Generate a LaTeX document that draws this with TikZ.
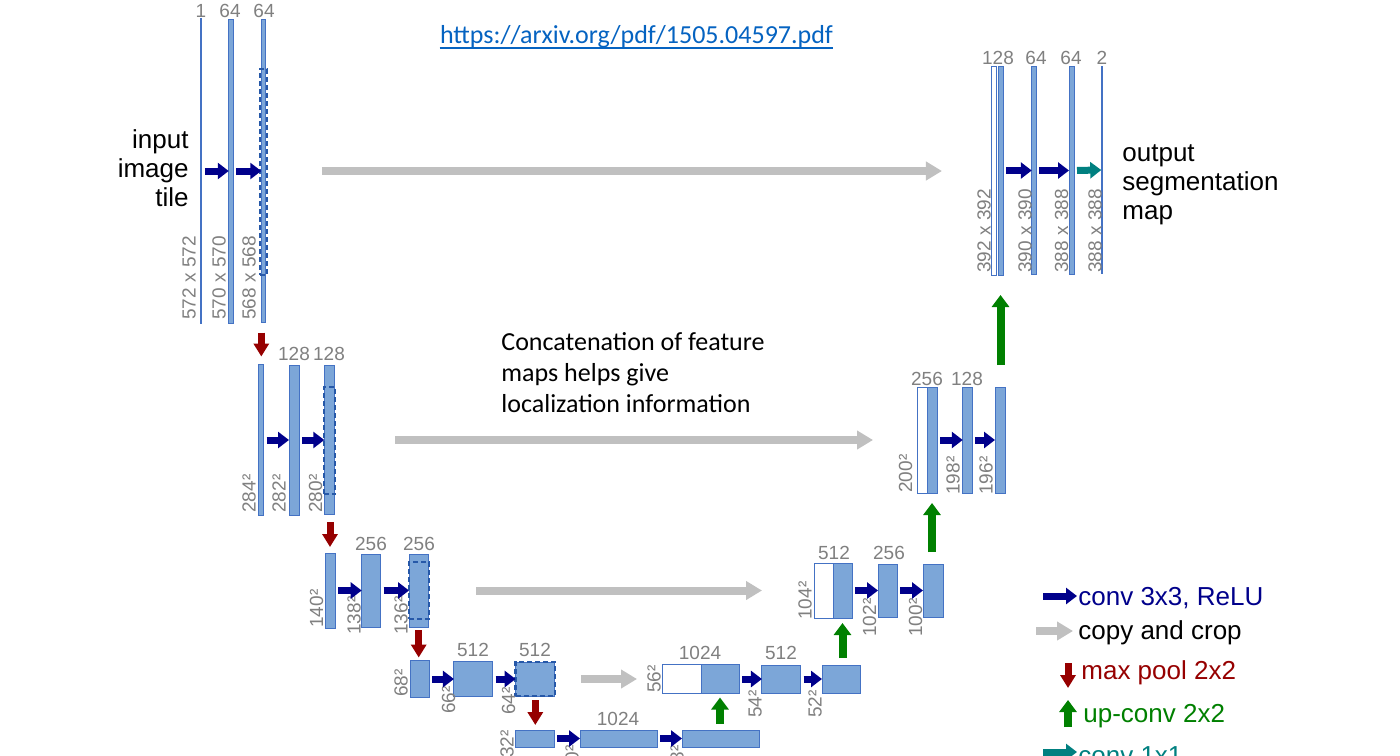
\documentclass[tikz,border=0pt]{standalone}
\usepackage{fontspec}
\setmainfont{Liberation Sans}
\newfontfamily\calib{Carlito}
\usetikzlibrary{arrows.meta}
\definecolor{barfill}{RGB}{124,166,216}
\definecolor{bardraw}{RGB}{68,114,196}
\definecolor{dashblue}{RGB}{38,88,168}
\definecolor{convcol}{RGB}{0,0,139}
\definecolor{poolcol}{RGB}{150,0,0}
\definecolor{upcol}{RGB}{0,128,0}
\definecolor{onecol}{RGB}{0,128,128}
\definecolor{copycol}{RGB}{192,192,192}
\definecolor{lblcol}{RGB}{128,128,128}
\definecolor{urlcol}{RGB}{5,99,193}
\begin{document}
\begin{tikzpicture}[x=0.5pt,y=-0.5pt,
 sz/.style 2 args={minimum width=#1*0.5pt,minimum height=#2*0.5pt},
 bar/.style={draw=bardraw,fill=barfill,line width=0.5pt,inner sep=0pt,outer sep=0pt},
 wbar/.style={draw=bardraw,fill=white,line width=0.5pt,inner sep=0pt,outer sep=0pt},
 dbox/.style={draw=dashblue,line width=1.2pt,dash pattern=on 2.5pt off 1.5pt,inner sep=0pt,outer sep=0pt},
 lbl/.style={text=lblcol,font=\fontsize{9.5}{10}\selectfont,inner sep=0pt},
 vlbl/.style={lbl,rotate=90,anchor=west},
 big/.style={font=\fontsize{13}{15}\selectfont,inner sep=0pt},
 cal/.style={font=\calib\fontsize{13}{15}\selectfont,inner sep=0pt,anchor=base west},
 conv/.style={draw=convcol,line width=3.5pt,shorten <=1.5pt,-{Triangle[length=5.5pt,width=8pt]}},
 one/.style={draw=onecol,line width=3.5pt,shorten <=1.5pt,-{Triangle[length=5.5pt,width=8pt]}},
 copyarr/.style={draw=copycol,line width=4pt,-{Triangle[length=8pt,width=9pt]}},
 pool/.style={draw=poolcol,line width=3.5pt,-{Triangle[length=6.5pt,width=7.5pt]}},
 upc/.style={draw=upcol,line width=4pt,-{Triangle[length=6pt,width=8.5pt]}}
]
\useasboundingbox (0,0) rectangle (1400,755);
\clip (0,0) rectangle (1400,755);
\fill[white] (0,0) rectangle (1400,755);

% ---------- URL ----------
\node[font=\calib\fontsize{13}{15}\selectfont,text=urlcol,inner sep=0pt,anchor=base] (url) at (636.5,43) {https://arxiv.org/pdf/1505.04597.pdf};
\draw[urlcol,line width=0.6pt] ([yshift=-2.5pt]url.base west) -- ([yshift=-2.5pt]url.base east);

% ---------- input text ----------
\node[big,anchor=base east] (in1) at (189,148) {input};
\node[big,anchor=base east] (in2) at (189,177) {image};
\node[big,anchor=base east] (in3) at (189,206) {tile};

% ---------- row 1 ----------
\node[bar,sz={1.5}{305}] (a1) at (201,171) {};
\node[bar,sz={4.5}{304}] (a2) at (231,171) {};
\node[bar,sz={4.5}{303}] (a3) at (263.5,171) {};
\node[dbox,sz={7}{206}] (a3d) at (263.5,172) {};
\node[lbl] (ta1) at (201,11) {1};
\node[lbl] (ta2) at (230,11) {64};
\node[lbl] (ta3) at (264,11) {64};
\node[vlbl] (va1) at (189,320) {572 x 572};
\node[vlbl] (va2) at (219,320) {570 x 570};
\node[vlbl] (va3) at (249,320) {568 x 568};

% ---------- row 2 ----------
\node[bar,sz={4.7}{151}] (b1) at (261.3,440) {};
\node[bar,sz={10}{150}] (b2) at (294,440) {};
\node[bar,sz={10}{149}] (b3) at (329.3,440) {};
\node[dbox,sz={11.5}{107}] (b3d) at (329.5,440.5) {};
\node[lbl] (tb2) at (294,354) {128};
\node[lbl] (tb3) at (329,354) {128};
\node[vlbl] (vb1) at (249,513) {284²};
\node[vlbl] (vb2) at (279,513) {282²};
\node[vlbl] (vb3) at (315.5,513) {280²};

% ---------- row 3 ----------
\node[bar,sz={10}{75}] (c1) at (330,590.5) {};
\node[bar,sz={19}{73}] (c2) at (371.2,590.5) {};
\node[bar,sz={19.3}{73}] (c3) at (418.7,590.5) {};
\node[dbox,sz={20}{57}] (c3d) at (419,590.5) {};
\node[lbl] (tc2) at (371,544) {256};
\node[lbl] (tc3) at (419,544) {256};
\node[vlbl] (vc1) at (316.5,628) {140²};
\node[vlbl] (vc2) at (354,635) {138²};
\node[vlbl] (vc3) at (401,635) {136²};

% ---------- row 4 ----------
\node[bar,sz={19}{37}] (d1) at (419.5,679) {};
\node[bar,sz={38.7}{35}] (d2) at (473.3,679) {};
\node[bar,sz={39.3}{34}] (d3) at (535.3,679) {};
\node[dbox,sz={39.3}{34}] (d3d) at (535.3,679) {};
\node[lbl] (td2) at (473,649.5) {512};
\node[lbl] (td3) at (535,649.5) {512};
\node[vlbl] (vd1) at (401,697) {68²};
\node[vlbl] (vd2) at (448.5,714) {66²};
\node[vlbl] (vd3) at (508.5,715) {64²};

% ---------- row 5 (bottom) ----------
\node[bar,sz={39}{17}] (e1) at (534.5,738.5) {};
\node[bar,sz={77}{17}] (e2) at (618.5,738.5) {};
\node[bar,sz={77}{17}] (e3) at (720.5,738.5) {};
\node[lbl] (te2) at (618,718.5) {1024};
\node[vlbl] (ve1) at (507,758) {32²};
\node[vlbl] (ve2) at (572,773) {30²};
\node[vlbl] (ve3) at (677,773) {28²};

% ---------- up row 4 ----------
\node[wbar,sz={39}{29}] (f0) at (681.5,679) {};
\node[bar,sz={38}{29}] (f1) at (720,679) {};
\node[bar,sz={38.7}{28}] (f2) at (781.3,679) {};
\node[bar,sz={38}{28}] (f3) at (841,679) {};
\node[lbl] (tf1) at (700,652.5) {1024};
\node[lbl] (tf2) at (781,652.5) {512};
\node[vlbl] (vf1) at (654,693) {56²};
\node[vlbl] (vf2) at (755,718) {54²};
\node[vlbl] (vf3) at (815,718) {52²};

% ---------- up row 3 ----------
\node[wbar,sz={19}{55}] (g0) at (823.5,590.5) {};
\node[bar,sz={19}{55}] (g1) at (842.5,590.5) {};
\node[bar,sz={19}{53}] (g2) at (887.5,590.5) {};
\node[bar,sz={20}{53}] (g3) at (933,590.5) {};
\node[lbl] (tg1) at (834,552.5) {512};
\node[lbl] (tg2) at (889,552.5) {256};
\node[vlbl] (vg1) at (805,620) {104²};
\node[vlbl] (vg2) at (869.5,637) {102²};
\node[vlbl] (vg3) at (915.5,637) {100²};

% ---------- up row 2 ----------
\node[wbar,sz={10}{106}] (h0) at (922,440) {};
\node[bar,sz={10}{106}] (h1) at (932,440) {};
\node[bar,sz={9.5}{106}] (h2) at (967.5,440) {};
\node[bar,sz={10}{106}] (h3) at (1000,440) {};
\node[lbl] (th1) at (927,379) {256};
\node[lbl] (th2) at (967,379) {128};
\node[vlbl] (vh1) at (905.5,493) {200²};
\node[vlbl] (vh2) at (953,495) {198²};
\node[vlbl] (vh3) at (986,495) {196²};

% ---------- up row 1 ----------
\node[wbar,sz={4.7}{209}] (i0) at (994.3,170.5) {};
\node[bar,sz={5}{209}] (i1) at (1000.5,170.5) {};
\node[bar,sz={4.5}{208}] (i2) at (1034,170.5) {};
\node[bar,sz={5}{208}] (i3) at (1071.5,170.5) {};
\node[bar,sz={1.5}{207}] (i4) at (1102,170) {};
\node[lbl] (ti1) at (998,58) {128};
\node[lbl] (ti2) at (1036,58) {64};
\node[lbl] (ti3) at (1071,58) {64};
\node[lbl] (ti4) at (1102,58) {2};
\node[vlbl] (vi1) at (984,273) {392 x 392};
\node[vlbl] (vi2) at (1025,273) {390 x 390};
\node[vlbl] (vi3) at (1061.5,273) {388 x 388};
\node[vlbl] (vi4) at (1095,273) {388 x 388};

% ---------- output text ----------
\node[big,anchor=base west] (out1) at (1122,161) {output};
\node[big,anchor=base west] (out2) at (1122,190) {segmentation};
\node[big,anchor=base west] (out3) at (1122,219) {map};

% ---------- concatenation note ----------
\node[cal] (n1) at (501,350) {Concatenation of feature};
\node[cal] (n2) at (501,381) {maps helps give};
\node[cal] (n3) at (501,412) {localization information};

% ---------- conv arrows ----------
\draw[conv] (a1.east) -- (a2.west);
\draw[conv] (a2.east) -- (a3.west);
\draw[conv] (b1.east) -- (b2.west);
\draw[conv] (b2.east) -- (b3.west);
\draw[conv] (c1.east) -- (c2.west);
\draw[conv] (c2.east) -- (c3.west);
\draw[conv] (d1.east) -- (d2.west);
\draw[conv] (d2.east) -- (d3.west);
\draw[conv] (e1.east) -- (e2.west);
\draw[conv] (e2.east) -- (e3.west);
\draw[conv] (f1.east) -- (f2.west);
\draw[conv] (f2.east) -- (f3.west);
\draw[conv] (g1.east) -- (g2.west);
\draw[conv] (g2.east) -- (g3.west);
\draw[conv] (h1.east) -- (h2.west);
\draw[conv] (h2.east) -- (h3.west);
\draw[conv] (i1.east) -- (i2.west);
\draw[conv] (i2.east) -- (i3.west);
\draw[one] (i3.east) -- (i4.west);

% ---------- copy and crop ----------
\draw[copyarr,shorten <=28pt,shorten >=25pt] (a3.east) -- (a3.east -| i0.west);
\draw[copyarr,shorten <=30.5pt,shorten >=22pt] (b3.east) -- (b3.east -| h0.west);
\draw[copyarr,shorten <=24pt,shorten >=26pt] (c3.east) -- (c3.east -| g0.west);
\draw[copyarr,shorten <=13pt,shorten >=12.5pt] (d3.east) -- (d3.east -| f0.west);

% ---------- max pool ----------
\draw[pool,shorten <=5pt,shorten >=4pt] (b1.north |- a3.south) -- (b1.north);
\draw[pool,shorten <=3.75pt,shorten >=3pt] (c1.north |- b3.south) -- (c1.north);
\draw[pool,shorten <=1.5pt,shorten >=1.5pt] (c3.south) -- (c3.south |- d1.north);
\draw[pool,shorten <=2pt,shorten >=2.5pt] (d3.south) -- (d3.south |- e1.north);

% ---------- up-conv ----------
\draw[upc,shorten <=3pt,shorten >=2pt] (f1.south |- e3.north) -- (f1.south);
\draw[upc,shorten <=3.5pt,shorten >=2.5pt] (g1.south |- f3.north) -- (g1.south);
\draw[upc,shorten <=6pt,shorten >=5pt] (h1.south |- g3.north) -- (h1.south);
\draw[upc,shorten <=11pt,shorten >=10pt] (i1.south |- h3.north) -- (i1.south);

% ---------- legend ----------
\coordinate (lc1) at (1043,596); \coordinate (lc2) at (1077,596);
\draw[conv,shorten <=0pt] (lc1) -- (lc2);
\node[big,anchor=base west,text=convcol] (lt1) at (1078,605) {conv 3x3, ReLU};
\coordinate (lk1) at (1036,631); \coordinate (lk2) at (1073,631);
\draw[copyarr] (lk1) -- (lk2);
\node[big,anchor=base west] (lt2) at (1078,639) {copy and crop};
\coordinate (lp1) at (1068,663); \coordinate (lp2) at (1068,688);
\draw[pool] (lp1) -- (lp2);
\node[big,anchor=base west,text=poolcol] (lt3) at (1081,679) {max pool 2x2};
\coordinate (lu1) at (1068,727); \coordinate (lu2) at (1068,700);
\draw[upc] (lu1) -- (lu2);
\node[big,anchor=base west,text=upcol] (lt4) at (1083,722) {up-conv 2x2};
\coordinate (lo1) at (1043,752); \coordinate (lo2) at (1077,752);
\draw[one,shorten <=0pt] (lo1) -- (lo2);
\node[big,anchor=base west,text=onecol] (lt5) at (1078,764) {conv 1x1};
\end{tikzpicture}
\end{document}
